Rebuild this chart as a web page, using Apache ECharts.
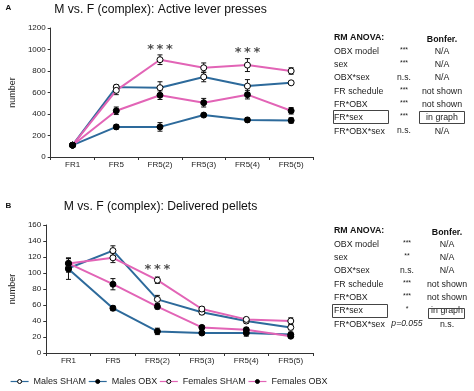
<!DOCTYPE html>
<html><head><meta charset="utf-8">
<script src="https://cdn.jsdelivr.net/npm/echarts@6/dist/echarts.min.js"></script>
<style>html,body{margin:0;padding:0;background:#fff}#c{width:474px;height:391px}</style>
</head><body><div id="c"></div>
<script>
// ---- data ----
const categories = ['FR1','FR5','FR5(2)','FR5(3)','FR5(4)','FR5(5)'];
const seriesNames = ['Males SHAM','Males OBX','Females SHAM','Females OBX'];

// Panel A: active lever presses (mean, SEM)
const leverMaleSham = [110, 650, 645, 745, 660, 690];
const leverMaleShamErr = [10, 20, 55, 45, 60, 15];
const leverMaleObx = [110, 280, 280, 390, 345, 340];
const leverMaleObxErr = [10, 20, 40, 15, 20, 25];
const leverFemaleSham = [110, 620, 905, 830, 855, 800];
const leverFemaleShamErr = [10, 40, 45, 45, 60, 30];
const leverFemaleObx = [110, 430, 575, 505, 580, 430];
const leverFemaleObxErr = [10, 35, 40, 40, 40, 30];
const leverSig = [[2, 1003], [4, 970]];

// Panel B: delivered pellets (mean, SEM)
const pelletMaleSham = [106, 128, 67, 51, 40, 32];
const pelletMaleShamErr = [5, 6, 5, 3, 3, 3];
const pelletMaleObx = [105, 56, 27, 25, 25, 23];
const pelletMaleObxErr = [13, 3, 4, 2, 4, 3];
const pelletFemaleSham = [112, 119, 91, 55, 42, 40];
const pelletFemaleShamErr = [6, 6, 4, 3, 2, 4];
const pelletFemaleObx = [112, 86, 58, 32, 29, 21];
const pelletFemaleObxErr = [7, 7, 3, 2, 3, 2];
const pelletSig = [[2, 104]];

const yTicksA = {min: 0, max: 1200, interval: 200};
const yTicksB = {min: 0, max: 160, interval: 20};

const tableA = [
  ['OBX model', '***', 'N/A'],
  ['sex', '***', 'N/A'],
  ['OBX*sex', 'n.s.', 'N/A'],
  ['FR schedule', '***', 'not shown'],
  ['FR*OBX', '***', 'not shown'],
  ['FR*sex', '***', 'in graph'],
  ['FR*OBX*sex', 'n.s.', 'N/A']
];
const tableB = [
  ['OBX model', '***', 'N/A'],
  ['sex', '**', 'N/A'],
  ['OBX*sex', 'n.s.', 'N/A'],
  ['FR schedule', '***', 'not shown'],
  ['FR*OBX', '***', 'not shown'],
  ['FR*sex', '*', 'in graph'],
  ['FR*OBX*sex', 'p=0.055', 'n.s.']
];

// ---- styles ----
const BLUE = '#2d6a9b';
const PINK = '#e264b6';
const FONT = '"Liberation Sans", Arial, sans-serif';
const styles = [
  {line: BLUE, fill: '#fff'},
  {line: BLUE, fill: '#000'},
  {line: PINK, fill: '#fff'},
  {line: PINK, fill: '#000'}
];

const chart = echarts.init(document.getElementById('c'), null, {renderer: 'canvas'});

function errData(vals, errs) {
  return vals.map((v, i) => [i, v - errs[i], v + errs[i]]);
}
function errSeries(idx, vals, errs) {
  return {
    type: 'custom', xAxisIndex: idx, yAxisIndex: idx, z: 1, silent: true,
    data: errData(vals, errs),
    renderItem: function (params, api) {
      const lo = api.coord([api.value(0), api.value(1)]);
      const hi = api.coord([api.value(0), api.value(2)]);
      const w = 2.5;
      const st = {stroke: '#111', lineWidth: 1};
      return {type: 'group', children: [
        {type: 'line', shape: {x1: lo[0], y1: lo[1], x2: hi[0], y2: hi[1]}, style: st},
        {type: 'line', shape: {x1: lo[0]-w, y1: lo[1], x2: lo[0]+w, y2: lo[1]}, style: st},
        {type: 'line', shape: {x1: hi[0]-w, y1: hi[1], x2: hi[0]+w, y2: hi[1]}, style: st}
      ]};
    }
  };
}
function lineSeries(idx, k, vals) {
  return {
    type: 'line', name: seriesNames[k], xAxisIndex: idx, yAxisIndex: idx, z: 2,
    data: vals, symbol: 'circle', symbolSize: 6, showSymbol: true,
    lineStyle: {color: styles[k].line, width: 2},
    itemStyle: {color: styles[k].fill, borderColor: '#000', borderWidth: 1},
    emphasis: {disabled: true}
  };
}
function sigSeries(idx, pts) {
  return {
    type: 'scatter', name: 'sig', xAxisIndex: idx, yAxisIndex: idx, z: 5,
    data: pts, symbolSize: 0, silent: true,
    label: {show: true, position: 'inside', formatter: '*\u2009*\u2009*', fontSize: 13,
            fontWeight: 'bold', color: '#222', fontFamily: '"DejaVu Sans", sans-serif'}
  };
}

const seriesList = [];
const A = [leverMaleSham, leverMaleObx, leverFemaleSham, leverFemaleObx];
const AE = [leverMaleShamErr, leverMaleObxErr, leverFemaleShamErr, leverFemaleObxErr];
const B = [pelletMaleSham, pelletMaleObx, pelletFemaleSham, pelletFemaleObx];
const BE = [pelletMaleShamErr, pelletMaleObxErr, pelletFemaleShamErr, pelletFemaleObxErr];
for (let k = 0; k < 4; k++) {
  seriesList.push(errSeries(0, A[k], AE[k]));
  seriesList.push(errSeries(1, B[k], BE[k]));
}
for (let k = 0; k < 4; k++) {
  seriesList.push(lineSeries(0, k, A[k]));
  seriesList.push(lineSeries(1, k, B[k]));
}
seriesList.push(sigSeries(0, leverSig));
seriesList.push(sigSeries(1, pelletSig));

function xAxis(idx) {
  return {
    type: 'category', gridIndex: idx, data: categories, boundaryGap: true,
    axisLine: {lineStyle: {color: '#333', width: 1}},
    axisTick: {show: true, length: 3, lineStyle: {color: '#333'}},
    axisLabel: {fontSize: 8, color: '#222', margin: 4, fontFamily: FONT, interval: 0}
  };
}
function yAxis(idx, t) {
  return {
    type: 'value', gridIndex: idx, min: t.min, max: t.max, interval: t.interval,
    name: 'number', nameLocation: 'middle', nameGap: 29, nameRotate: 90,
    nameTextStyle: {fontSize: 9, color: '#222', fontFamily: FONT},
    axisLine: {show: true, lineStyle: {color: '#333', width: 1}},
    axisTick: {show: true, length: 3, lineStyle: {color: '#333'}},
    splitLine: {show: false},
    axisLabel: {fontSize: 8, color: '#222', margin: 5, fontFamily: FONT,
                formatter: v => String(v)}
  };
}

function tableGraphics(rows, top, col2, col3, boxes) {
  const g = [];
  const x0 = 334;
  g.push({type: 'text', left: x0, top: top - 5, style: {text: 'RM ANOVA:', font: 'bold 8.8px ' + FONT, fill: '#111'}});
  g.push({type: 'text', x: col3, y: top + 1.5, style: {text: 'Bonfer.', font: 'bold 8.8px ' + FONT, fill: '#111', align: 'center', verticalAlign: 'middle'}});
  rows.forEach((r, i) => {
    const y = top + 13.3 * (i + 1);
    g.push({type: 'text', x: x0, y: y, style: {text: r[0], font: '8.8px ' + FONT, fill: '#222', verticalAlign: 'middle'}});
    const isStar = /^\*+$/.test(r[1]);
    const isP = r[1].startsWith('p=');
    g.push({type: 'text', x: col2, y: isStar ? y - 1.5 : y, style: {
      text: r[1], font: (isP ? 'italic ' : '') + (isStar ? '7px ' : '8.6px ') + FONT,
      fill: '#222', align: 'center', verticalAlign: 'middle'}});
    g.push({type: 'text', x: col3, y: y, style: {text: r[2], font: '8.8px ' + FONT, fill: '#222', align: 'center', verticalAlign: 'middle'}});
  });
  boxes.forEach(b => g.push({type: 'rect', shape: {x: b[0], y: b[1], width: b[2], height: b[3]},
    style: {fill: 'none', stroke: '#444', lineWidth: 1}}));
  return g;
}

const graphics = [
  {type: 'text', x: 8.5, y: 7.5, style: {text: 'A', font: 'bold 8px ' + FONT, fill: '#111', align: 'center', verticalAlign: 'middle'}},
  {type: 'text', x: 8.5, y: 205.5, style: {text: 'B', font: 'bold 8px ' + FONT, fill: '#111', align: 'center', verticalAlign: 'middle'}},
  {type: 'text', x: 160.5, y: 9.5, style: {text: 'M vs. F (complex): Active lever presses', font: '12.2px ' + FONT, fill: '#111', align: 'center', verticalAlign: 'middle'}},
  {type: 'text', x: 160.5, y: 207, style: {text: 'M vs. F (complex): Delivered pellets', font: '12.2px ' + FONT, fill: '#111', align: 'center', verticalAlign: 'middle'}}
].concat(
  tableGraphics(tableA, 38, 404, 442, [[333.5, 110.5, 55, 13], [419.5, 111.5, 45, 12]]),
  tableGraphics(tableB, 231, 407, 447, [[332.5, 304.5, 55, 13], [428.5, 308.5, 36, 10]])
);

chart.setOption({
  animation: false,
  backgroundColor: '#fff',
  textStyle: {fontFamily: FONT},
  grid: [
    {left: 36, top: 28, width: 277, height: 129},
    {left: 36, top: 225, width: 277, height: 128}
  ],
  xAxis: [xAxis(0), xAxis(1)],
  yAxis: [yAxis(0, yTicksA), yAxis(1, yTicksB)],
  legend: {
    data: seriesNames, left: 10, top: 377, padding: 0, itemWidth: 18, itemHeight: 5, itemGap: 2,
    lineStyle: {width: 1.2},
    itemStyle: {borderWidth: 1},
    textStyle: {fontSize: 9, color: '#222', fontFamily: FONT},
    selectedMode: false
  },
  graphic: graphics,
  series: seriesList
});
</script></body></html>
